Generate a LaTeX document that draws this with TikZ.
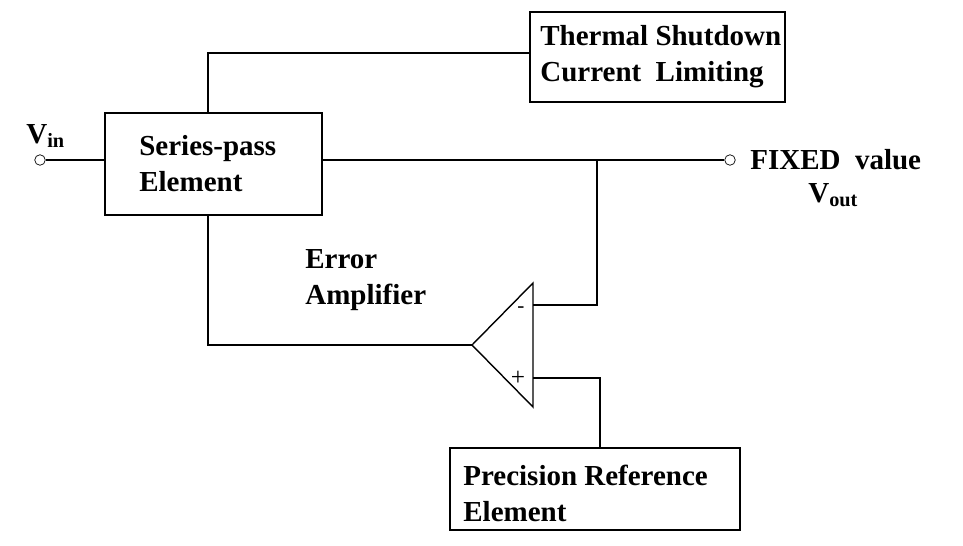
\documentclass[tikz,border=0pt]{standalone}
\usepackage{fontspec}
\setmainfont{Liberation Serif}
\begin{document}
\begin{tikzpicture}[x=0.02cm,y=-0.02cm,
  blk/.style={draw,thick,rectangle,inner sep=0pt},
  lbl/.style={font=\bfseries\fontsize{16.5}{20.5}\selectfont,align=left,inner sep=0pt},
  term/.style={draw,circle,inner sep=0pt,minimum size=6pt,fill=white},
  wire/.style={thick}]
\useasboundingbox (0,0) rectangle (963,545);
\node[blk,minimum width=217*0.02cm,minimum height=102*0.02cm] (sp) at (213.5,164) {};
\node[blk,minimum width=255*0.02cm,minimum height=90*0.02cm] (th) at (657.5,57) {};
\node[blk,minimum width=290*0.02cm,minimum height=82*0.02cm] (pr) at (595,489) {};
\node[lbl,anchor=west] (spt) at (139,164) {Series-pass\\Element};
\node[lbl,anchor=west] (tht) at (540,57) {Thermal Shutdown\\Current\ \ Limiting};
\node[lbl,anchor=west] (prt) at (463,493) {Precision Reference\\Element};
\node[term] (vin) at (40,160) {};
\node[term] (vout) at (730,160) {};
\node[lbl,anchor=south west] (vinl) at (26,148) {V\textsubscript{in}};
\node[lbl,anchor=west] (fx) at (750,160) {FIXED\ \ value};
\node[lbl,anchor=west] (vo) at (808,195) {V\textsubscript{out}};
\node[lbl,anchor=west] (ea) at (305,280) {Error\\Amplifier};
\coordinate (ta) at (533,283);
\coordinate (tb) at (533,407);
\coordinate (out) at (472,345);
\draw[wire] (ta) -- (tb) -- (out) -- cycle;
\node[font=\large] (mi) at (521,310) {-};
\node[font=\Large] (pl) at (518,378) {+};
\coordinate (inm) at (533,305);
\coordinate (inp) at (533,378);
\coordinate (fb) at (597,160);
\draw[wire] (vin) -- (vin -| sp.west);
\draw[wire] (sp.north -| 208,0) -- (208,53) -- (th.west |- 0,53);
\draw[wire] (sp.east |- vout) -- (vout);
\draw[wire] (fb) |- (inm);
\draw[wire] (inp) -| (pr.north -| 600,0);
\draw[wire] (out) -| (sp.south -| 208,0);
\end{tikzpicture}
\end{document}
